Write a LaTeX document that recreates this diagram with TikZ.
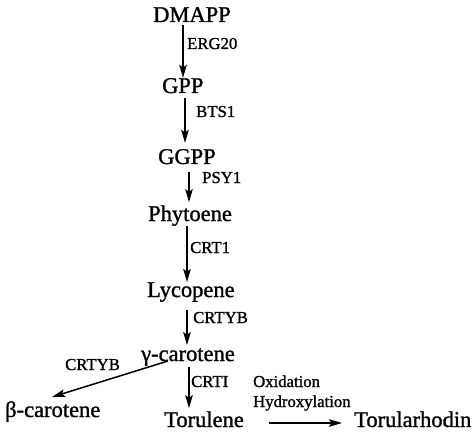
\documentclass[tikz,border=0pt]{standalone}
\usepackage{fontspec}
\setmainfont[FakeBold=1.2]{Liberation Serif}
\usetikzlibrary{arrows.meta}
\begin{document}
\begin{tikzpicture}[x=1pt,y=-1pt,
  cpd/.style={anchor=base west,inner sep=0pt,font=\fontsize{22.5}{25}\selectfont},
  enz/.style={anchor=base west,inner sep=0pt,font=\fontsize{16.7}{18}\selectfont},
  arr/.style={line width=1.5pt,-{Stealth[length=13pt,width=7.5pt,inset=2.5pt]}}]
\fill[white] (0,0) rectangle (474,433);
\useasboundingbox (0,0) rectangle (474,433);
% compounds
\node[cpd] (dmapp) at (153,22) {DMAPP};
\node[cpd] (gpp) at (162,93) {GPP};
\node[cpd] (ggpp) at (158,164) {GGPP};
\node[cpd] (phy) at (148,221) {Phytoene};
\node[cpd] (lyc) at (147,297) {Lycopene};
\node[cpd] (gam) at (141,361) {γ-carotene};
\node[cpd] (bet) at (5,417) {β-carotene};
\node[cpd] (tor) at (164,427) {Torulene};
\node[cpd] (torh) at (354,427) {Torularhodin};
% enzyme labels
\node[enz] (l1) at (187,49) {ERG20};
\node[enz] (l2) at (196,117) {BTS1};
\node[enz] (l3) at (202,183) {PSY1};
\node[enz] (l4) at (190,253) {CRT1};
\node[enz] (l5) at (193,323) {CRTYB};
\node[enz] (l6) at (65,370) {CRTYB};
\node[enz] (l7) at (191,387) {CRTI};
\node[enz] (l8) at (253,387) {Oxidation};
\node[enz] (l9) at (253,407) {Hydroxylation};
% arrow start points
\coordinate (s1) at (183,25);
\coordinate (s2) at (185,98);
\coordinate (s3) at (189,172);
\coordinate (s4) at (187,226);
\coordinate (s5) at (187,310);
\coordinate (s6) at (189,367);
\coordinate (s7) at (168,361);
\coordinate (e7) at (52,397);
\coordinate (s8) at (269,423);
\coordinate (e8) at (342,423);
% arrows
\draw[arr] (s1) -- (s1 |- gpp.north);
\draw[arr] (s2) -- ([yshift=6pt]s2 |- ggpp.north);
\draw[arr] (s3) -- ([yshift=3pt]s3 |- phy.north);
\draw[arr] (s4) -- (s4 |- lyc.north);
\draw[arr] (s5) -- ([yshift=3pt]s5 |- gam.north);
\draw[arr] (s6) -- ([yshift=3pt]s6 |- tor.north);
\draw[arr] (s7) -- (e7);
\draw[arr] (s8) -- (e8);
\end{tikzpicture}
\end{document}
